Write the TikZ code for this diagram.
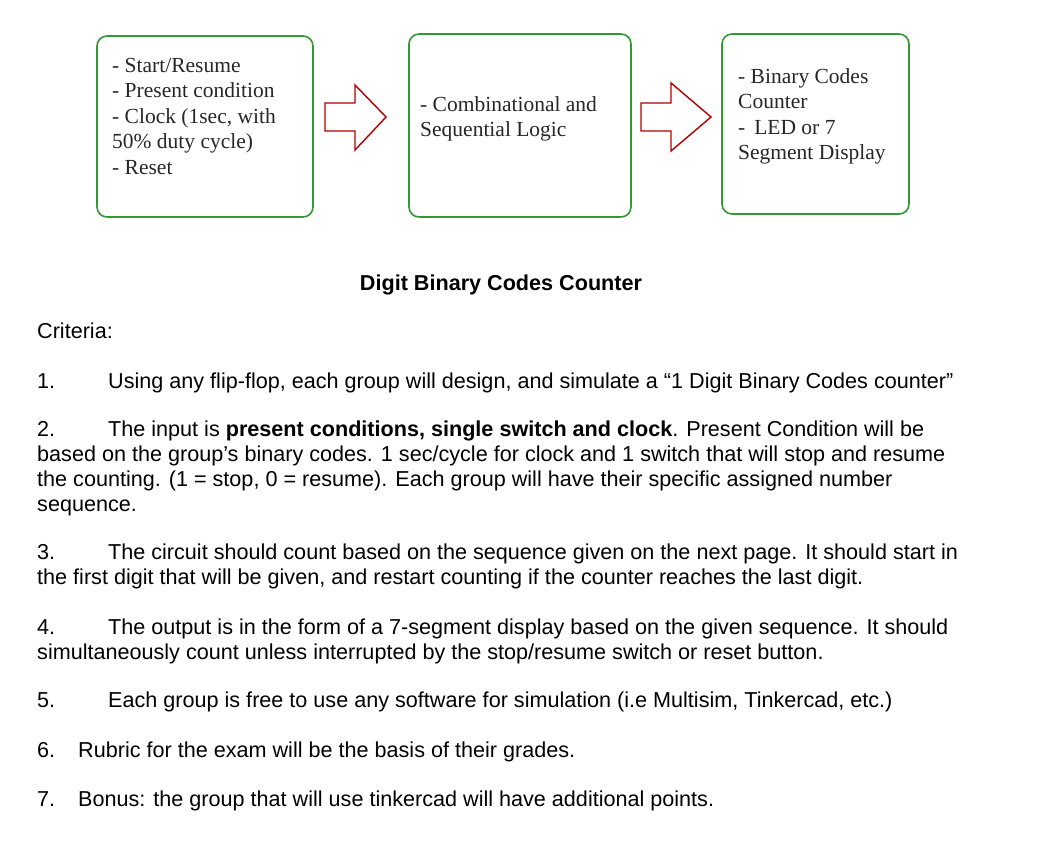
\documentclass[tikz,border=0pt]{standalone}
\usepackage{fontspec}
\setmainfont{Liberation Sans}
\newfontfamily\boxfont{Liberation Serif}
\begin{document}
\begin{tikzpicture}[x=1pt,y=-1pt,
  box/.style={draw=green!50!black!80, line width=1.6pt, rounded corners=10pt},
  btxt/.style={anchor=north west, align=left, font=\boxfont\fontsize{21.5}{25.5}\selectfont, inner sep=0pt, text=black!85},
  body/.style={anchor=base west, inner sep=0pt, font=\fontsize{21.6}{24}\selectfont},
  barrow/.style={draw=red!70!black, line width=1.4pt, fill=white}]
\useasboundingbox (0,0) rectangle (1048,841);
\draw[box] (97,36) rectangle (313,217);
\draw[box] (409,34) rectangle (631,217);
\draw[box] (722,34) rectangle (909,214);
\node[btxt] (t1) at (112,58) {- Start/Resume\\- Present condition\\- Clock (1sec, with\\50\% duty cycle)\\- Reset};
\node[btxt] (t2) at (420,96) {- Combinational and\\Sequential Logic};
\node[btxt] (t3) at (738,68) {- Binary Codes\\Counter\\- \,LED or 7\\Segment Display};
\draw[barrow] (325,103) -- (355,103) -- (355,85) -- (386,117) -- (355,150) -- (355,131) -- (325,131) -- cycle;
\draw[barrow] (641,103) -- (671,103) -- (671,83) -- (711,117) -- (671,151) -- (671,131) -- (641,131) -- cycle;
\node[anchor=base, inner sep=0pt, font=\bfseries\fontsize{21.6}{24}\selectfont] (title) at (501,290) {Digit Binary Codes Counter};
\node[body] (crit) at (37,338) {Criteria:};
\node[body] (n1) at (37,388) {1.};
\node[body] (l1) at (108,388) {Using any flip-flop, each group will design, and simulate a “1 Digit Binary Codes counter”};
\node[body] (n2) at (37,436) {2.};
\node[body] (l2a) at (108,436) {The input is \textbf{present conditions, single switch and clock}. Present Condition will be};
\node[body] (l2b) at (37,461) {based on the group's binary codes. 1 sec/cycle for clock and 1 switch that will stop and resume};
\node[body] (l2c) at (37,486) {the counting. (1 = stop, 0 = resume). Each group will have their specific assigned number};
\node[body] (l2d) at (37,511) {sequence.};
\node[body] (n3) at (37,559) {3.};
\node[body] (l3a) at (108,559) {The circuit should count based on the sequence given on the next page. It should start in};
\node[body] (l3b) at (37,584) {the first digit that will be given, and restart counting if the counter reaches the last digit.};
\node[body] (n4) at (37,634) {4.};
\node[body] (l4a) at (108,634) {The output is in the form of a 7-segment display based on the given sequence. It should};
\node[body] (l4b) at (37,659) {simultaneously count unless interrupted by the stop/resume switch or reset button.};
\node[body] (n5) at (37,707) {5.};
\node[body] (l5) at (108,707) {Each group is free to use any software for simulation (i.e Multisim, Tinkercad, etc.)};
\node[body] (n6) at (37,757) {6.};
\node[body] (l6) at (78,757) {Rubric for the exam will be the basis of their grades.};
\node[body] (n7) at (37,806) {7.};
\node[body] (l7) at (78,806) {Bonus: the group that will use tinkercad will have additional points.};
\end{tikzpicture}
\end{document}
